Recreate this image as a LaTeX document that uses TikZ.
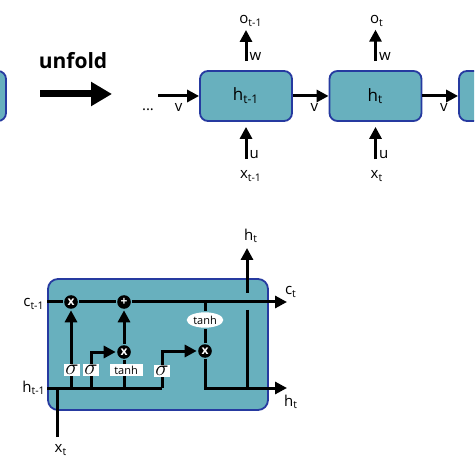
\documentclass[tikz,border=0pt]{standalone}
\usepackage{fontspec}
\setmainfont{Open Sans}
\usetikzlibrary{arrows.meta, positioning, shapes.geometric}
\definecolor{cellfill}{RGB}{104,176,190}
\definecolor{cellline}{RGB}{38,58,160}

\begin{document}
\begin{tikzpicture}[->, >={Triangle[length=6pt, width=6pt]}, line width=1.5pt, x=0.5pt, y=-0.5pt,
    every node/.style={font=\fontsize{7.5}{8}\selectfont, inner sep=1pt},
    cell/.style={draw=cellline, fill=cellfill, line width=0.9pt, rounded corners=4pt, minimum width=46pt, minimum height=25pt, font=\fontsize{8.5}{9}\selectfont},
    op/.style={circle, fill=black, text=white, minimum size=6.8pt, inner sep=0pt, font=\fontsize{6}{6}\selectfont\bfseries},
    gate/.style={fill=white, inner sep=0.8pt, font=\fontsize{10.5}{10.5}\selectfont}]
    \useasboundingbox (0,0) rectangle (474,474);
    \clip (0,0) rectangle (474,474);

    % unfolded network
    \node[cell] (rnn) at (-40,96) {};
    \node[font=\fontsize{10.5}{11}\selectfont\bfseries] (unfold) at (73,61) {unfold};
    \coordinate (ustart) at (40,94);
    \coordinate (uend) at (112,94);
    \draw[-{Triangle[length=10.5pt, width=11.5pt]}, line width=3.5pt] (ustart) -- (uend);

    \node[cell] (hprev) at (246,96) {h\textsubscript{t-1}};
    \node[cell] (hcur) at (375.5,96) {h\textsubscript{t}};
    \node[cell] (hnext) at (505,96) {};
    \node (dots) at (148,110) {...};
    \coordinate (vin) at (158,96);

    \draw (vin) -- node[below=2pt] {v} (hprev);
    \draw (hprev) -- node[below=2pt, pos=0.6] {v} (hcur);
    \draw (hcur) -- node[below=2pt, pos=0.6] {v} (hnext);

    \node (oprev) at (251,21) {o\textsubscript{t-1}};
    \node (ocur) at (377,21) {o\textsubscript{t}};
    \node (xprev) at (251,176) {x\textsubscript{t-1}};
    \node (xcur) at (377,176) {x\textsubscript{t}};

    \draw ([yshift=4.5pt]hprev.north) -- node[right, pos=0.15] {w} (hprev.north |- oprev.south);
    \draw ([yshift=4.5pt]hcur.north) -- node[right, pos=0.15] {w} (hcur.north |- ocur.south);
    \draw ([yshift=4pt]hprev.south |- xprev.north) -- node[right, pos=0.15] {u} ([yshift=-2.5pt]hprev.south);
    \draw ([yshift=4pt]hcur.south |- xcur.north) -- node[right, pos=0.15] {u} ([yshift=-2.5pt]hcur.south);

    % lstm cell
    \node[cell, minimum width=110pt, minimum height=65.5pt, rounded corners=5pt] (lstm) at (158,344.5) {};
    \node[op] (fmul) at (71,302) {x};
    \node[op] (cadd) at (124,302) {+};
    \node[op] (imul) at (124,352) {x};
    \node[op] (omul) at (205,351) {x};
    \node[ellipse, fill=white, inner sep=0.6pt, font=\fontsize{5.5}{6}\selectfont] (tanhc) at (205,320) {tanh};

    \node (cprev) at (34,304) {c\textsubscript{t-1}};
    \node (cnext) at (291,292) {c\textsubscript{t}};
    \node (hlin) at (34,388) {h\textsubscript{t-1}};
    \node (hlout) at (291,402) {h\textsubscript{t}};
    \node (htop) at (251,236) {h\textsubscript{t}};
    \node (xt) at (61,450) {x\textsubscript{t}};

    \coordinate (cout) at (287,302);
    \coordinate (ctap) at (205,302);
    \coordinate (hf) at (71,388);
    \coordinate (hi) at (91,388);
    \coordinate (hg) at (124,388);
    \coordinate (ho) at (162,388);
    \coordinate (hout) at (287,388);
    \coordinate (xin) at (57,437);
    \coordinate (xj) at (57,388);
    \coordinate (hjtop) at (247,310);
    \coordinate (hj) at (247,388);
    \coordinate (hupstart) at (247,293);
    \coordinate (huptip) at (247,248);

    \draw (lstm.west |- fmul) -- (fmul) -- (cadd) -- (cout);
    \draw[-] (ctap) -- (tanhc) -- (omul);
    \draw[-] (lstm.west |- hf) -- (ho);
    \draw[-] (xin) -- (xj);
    \draw (hf) -- (fmul);
    \draw (hi) |- (imul);
    \draw[-] (hg) -- (imul);
    \draw (imul) -- (cadd);
    \draw (ho) |- (omul);
    \draw (omul) |- (hout);
    \draw[-] (hjtop) -- (hj);
    \draw (hupstart) -- (huptip);

    \node[gate] (sigf) at (72,370) {$\sigma$};
    \node[gate] (sigi) at (91,370) {$\sigma$};
    \node[gate, minimum width=16.5pt, font=\fontsize{5.5}{6}\selectfont] (tanhg) at (126,370) {tanh};
    \node[gate] (sigo) at (162,371) {$\sigma$};
\end{tikzpicture}
\end{document}
